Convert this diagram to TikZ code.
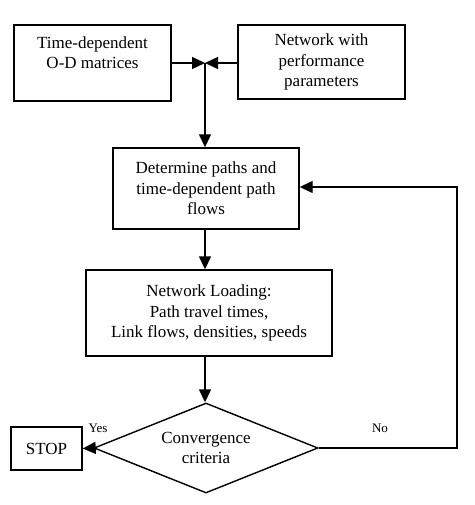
\documentclass[tikz,border=0pt]{standalone}
\usepackage{fontspec}
\setmainfont{Liberation Serif}
\usetikzlibrary{arrows.meta}
\usetikzlibrary{shapes.geometric}

\begin{document}
\begin{tikzpicture}[
        x=1pt, y=-1pt,
        line width=1.4pt,
        >={Triangle[length=13pt,width=12pt]},
        Box/.style={draw, line width=1.4pt, align=center, inner sep=0pt,
            font=\fontsize{17}{20.5}\selectfont},
        Dia/.style={Box, diamond, aspect=2.49},
        Lbl/.style={font=\fontsize{13}{15}\selectfont, inner sep=0pt}
    ]

    \useasboundingbox (0,0) rectangle (474,505);

    % inputs
    \node[Box, minimum width=157pt, minimum height=76pt] (od) at (92.5,63)
        {Time-dependent\\O-D matrices\\\mbox{}};
    \node[Box, minimum width=167pt, minimum height=74pt] (net) at (321.5,62)
        {Network with\\performance\\parameters};
    \coordinate (join) at (205,63);

    % main loop
    \node[Box, minimum width=186pt, minimum height=81pt] (paths) at (206,188.5)
        {Determine paths and\\time-dependent path\\flows};
    \node[Box, minimum width=246pt, minimum height=86pt] (load) at (209,313)
        {Network Loading:\\Path travel times,\\Link flows, densities, speeds};
    \node[Dia, minimum width=224pt, minimum height=90pt] (conv) at (206,448)
        {Convergence\\criteria};
    \node[Box, minimum width=71pt, minimum height=43pt] (stop) at (46.5,448.5) {STOP};

    \coordinate (back1) at (457,448);
    \coordinate (back2) at (457,187);

    \draw[->] (od.east |- join) -- (join);
    \draw[->] (net.west |- join) -- (join);
    \draw[->] (join) -- (join |- paths.north);
    \draw[->] (paths.south -| join) -- (join |- load.north);
    \draw[->] (load.south -| join) -- (conv.north -| join);
    \draw[->] (conv.west) -- (stop.east);
    \draw[->] (conv.east) -- (back1) -- (back2) -- (paths.east |- back2);

    \node[Lbl] (yes) at (98,428) {Yes};
    \node[Lbl] (no) at (380,428) {No};
\end{tikzpicture}
\end{document}
